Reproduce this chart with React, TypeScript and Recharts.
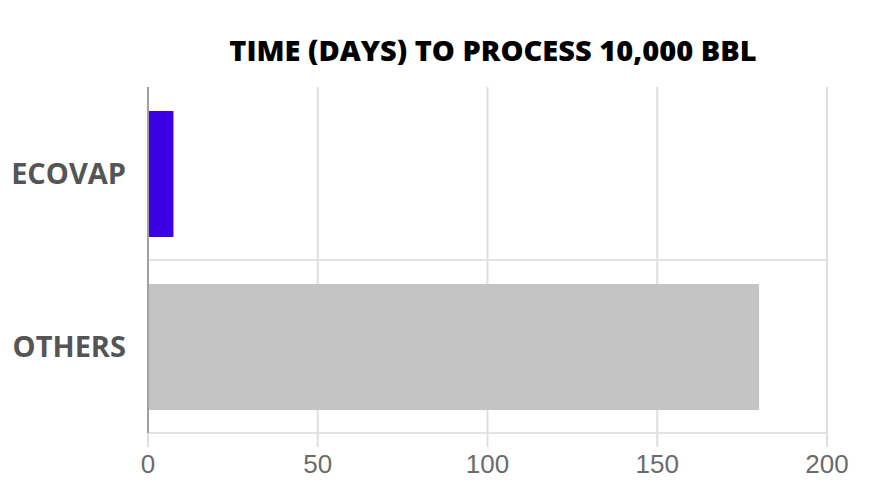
import React from 'react';
import { BarChart, Bar, XAxis, YAxis, CartesianGrid, Cell, ReferenceLine } from 'recharts';

const categories = ['ECOVAP', 'OTHERS'];
const days = [7.5, 180];
const barColors = ['#3b00e3', '#c4c4c4'];
const xTicks = [0, 50, 100, 150, 200];

const data = categories.map((name, i) => ({ name, days: days[i] }));

export default function App() {
  return (
    <div style={{ position: 'absolute', left: 0, top: 0, width: 888, height: 491, background: '#fff' }}>
      <div
        style={{
          position: 'absolute',
          left: 98,
          top: 30,
          width: 790,
          textAlign: 'center',
          fontFamily: '"Open Sans", sans-serif',
          fontWeight: 800,
          fontSize: 29,
          color: '#000',
          lineHeight: '40px',
        }}
      >
        TIME (DAYS) TO PROCESS 10,000 BBL
      </div>
      <BarChart
        width={888}
        height={491}
        data={data}
        layout="vertical"
        margin={{ top: 87, right: 61, bottom: 0, left: 0 }}
      >
        <CartesianGrid horizontal={false} stroke="#dedede" strokeWidth={2} />
        <XAxis
          type="number"
          domain={[0, 200]}
          ticks={xTicks}
          height={58}
          axisLine={{ stroke: '#e3e3e3', strokeWidth: 2 }}
          tickLine={{ stroke: '#dedede', strokeWidth: 2 }}
          tickSize={14}
          tickMargin={8}
          tick={{ fill: '#6b6b6b', fontSize: 26, fontFamily: 'Arial, "Liberation Sans", sans-serif' }}
        />
        <YAxis
          type="category"
          dataKey="name"
          width={148}
          axisLine={{ stroke: '#a0a0a0', strokeWidth: 2 }}
          tickLine={false}
          tickMargin={16}
          tick={{ fill: '#555555', fontSize: 29, fontWeight: 700, fontFamily: '"Open Sans", sans-serif' }}
        />
        <ReferenceLine y="ECOVAP" position="end" stroke="#e3e3e3" strokeWidth={2} />
        <Bar dataKey="days" barSize={126} isAnimationActive={false}>
          {data.map((d, i) => (
            <Cell key={d.name} fill={barColors[i]} />
          ))}
        </Bar>
      </BarChart>
    </div>
  );
}
